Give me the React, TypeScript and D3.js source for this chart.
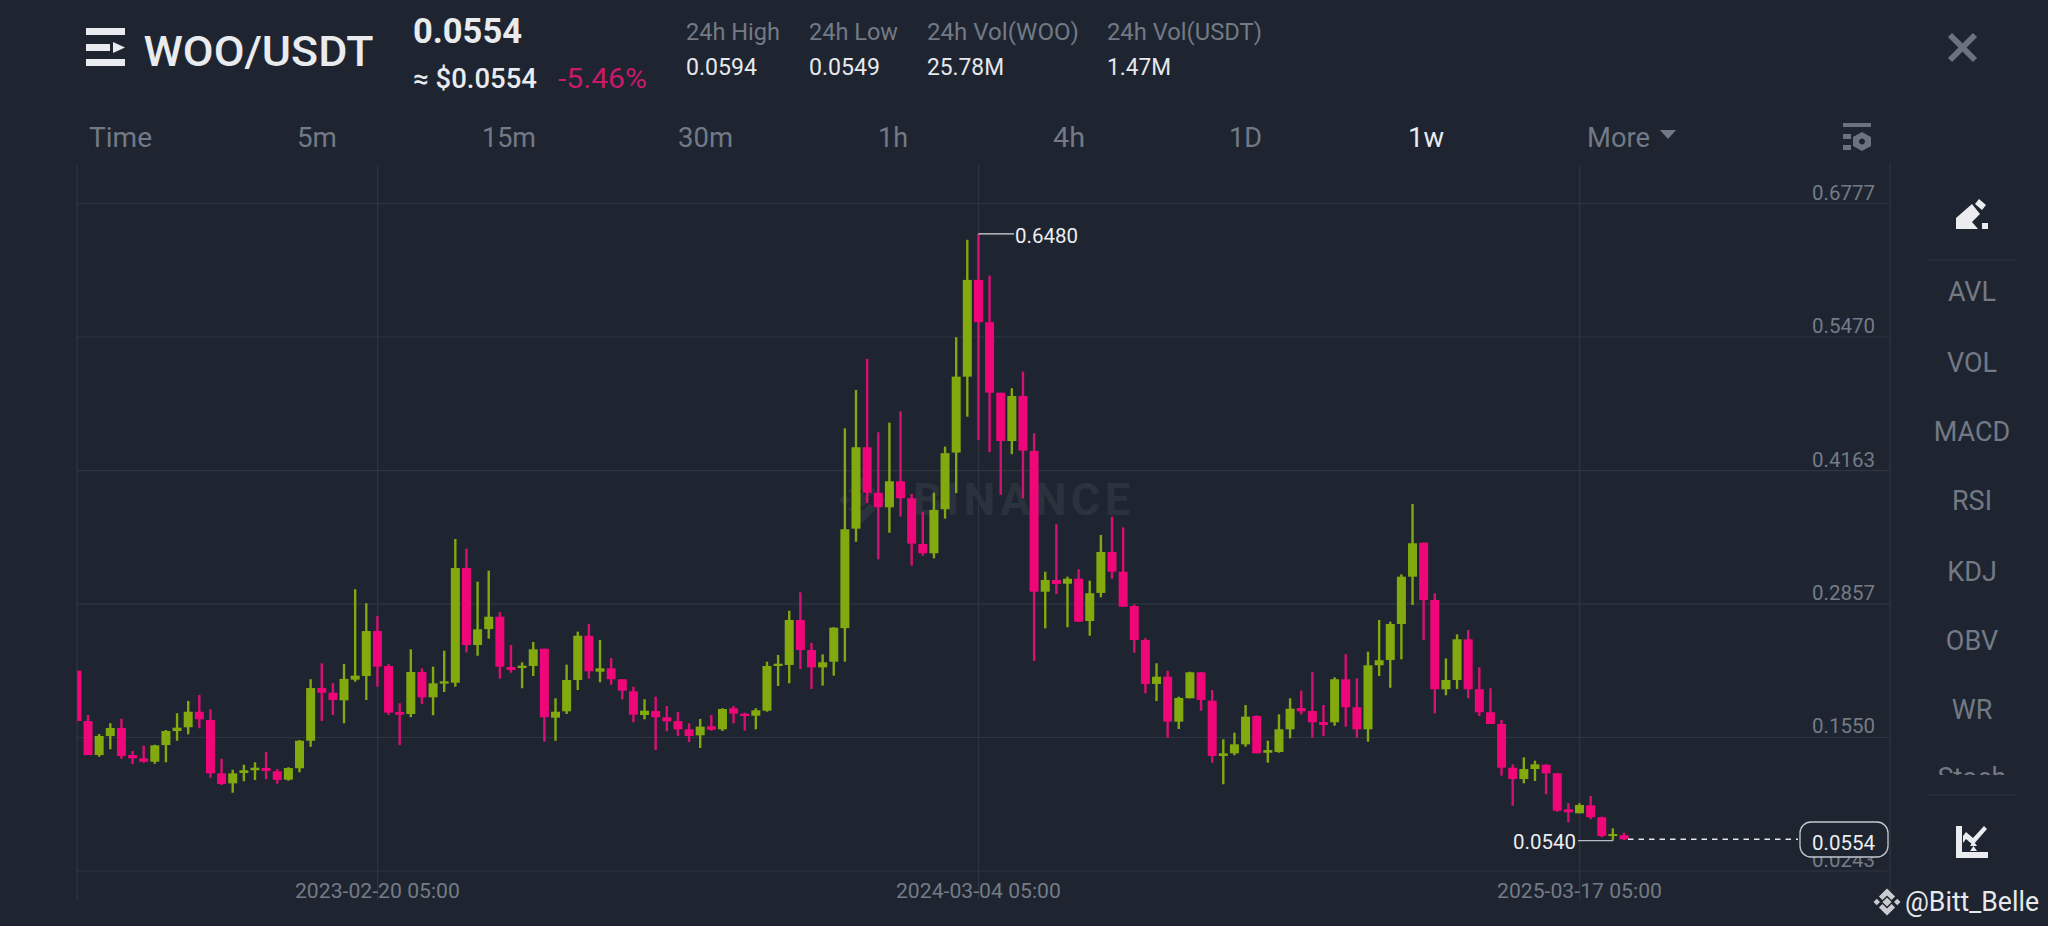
import React from "react";
import * as d3 from "d3";

const opens = [.2204,.1711,.1378,.1565,.1643,.1378,.1346,.1313,.1476,.1613,.1650,.1802,.1721,.1199,.1101,.1202,.1229,.1251,.1219,.1137,
.1249,.1518,.2034,.1988,.1914,.2116,.2152,.2592,.2250,.1800,.1780,.2191,.1943,.2077,.2086,.3209,.2455,.2611,.2732,.2240,
.2230,.2250,.2419,.1744,.1806,.2113,.2546,.2194,.2227,.2120,.2002,.1770,.1809,.1748,.1711,.1630,.1571,.1660,.1630,.1836,
.1783,.1763,.1812,.2250,.2260,.2700,.2406,.2236,.2292,.2620,.3594,.4391,.3946,.3803,.4058,.3892,.3444,.3353,.3784,.4339,
.5082,.6029,.5615,.4925,.4452,.4893,.4355,.2977,.3092,.3055,.3104,.2690,.2965,.3366,.3173,.2837,.2504,.2074,.2145,.1705,
.1934,.2188,.1910,.1369,.1395,.1483,.1760,.1401,.1408,.1630,.1839,.1809,.1702,.1699,.2120,.1846,.1630,.2257,.2308,.2661,
.3124,.3457,.2896,.2022,.2113,.2511,.2022,.1797,.1682,.1254,.1143,.1241,.1283,.1199,.0847,.0808,.0886,.0769,.0586,.0593];
const closes = [.1711,.1378,.1565,.1643,.1368,.1346,.1313,.1473,.1613,.1646,.1802,.1728,.1199,.1095,.1199,.1229,.1254,.1222,.1134,.1251,
.1518,.2034,.1988,.1917,.2123,.2155,.2592,.2243,.1793,.1773,.2191,.1943,.2080,.2100,.3209,.2455,.2609,.2732,.2243,.2211,
.2253,.2413,.1748,.1802,.2113,.2546,.2198,.2227,.2120,.2008,.1773,.1812,.1748,.1708,.1630,.1565,.1656,.1626,.1829,.1783,
.1760,.1816,.2250,.2272,.2700,.2406,.2236,.2286,.2625,.3588,.4391,.3946,.3803,.4058,.3892,.3447,.3353,.3777,.4333,.5082,
.6029,.5615,.4925,.4452,.4893,.4358,.2977,.3092,.3053,.3104,.2683,.2962,.3366,.3173,.2830,.2504,.2074,.2145,.1705,.1937,
.2188,.1917,.1369,.1395,.1483,.1754,.1395,.1427,.1630,.1832,.1806,.1699,.1672,.2120,.1846,.1630,.2257,.2306,.2661,.3124,
.3451,.2896,.2022,.2113,.2511,.2022,.1797,.1682,.1254,.1143,.1241,.1287,.1199,.0833,.0818,.0889,.0769,.0586,.0605,.0554];
const highs = [.2204,.1770,.1584,.1689,.1734,.1417,.1469,.1479,.1623,.1787,.1907,.1966,.1826,.1342,.1234,.1283,.1307,.1407,.1241,.1258,
.1525,.2120,.2276,.2083,.2269,.3001,.2864,.2739,.2269,.1885,.2413,.2227,.2243,.2399,.3493,.3398,.3075,.3183,.2776,.2455,
.2286,.2485,.2419,.1934,.2263,.2586,.2661,.2504,.2328,.2120,.2047,.1924,.1949,.1858,.1800,.1689,.1731,.1770,.1836,.1858,
.1793,.1836,.2292,.2358,.2791,.2971,.2476,.2364,.2629,.4577,.4952,.5256,.4538,.4632,.4743,.3934,.3760,.3946,.4397,.5468,
.6421,.6480,.6071,.4925,.4969,.5131,.4528,.3172,.3637,.3124,.3196,.3085,.3532,.3712,.3607,.2854,.2521,.2276,.2204,.1949,
.2194,.2188,.2015,.1532,.1597,.1868,.1767,.1518,.1777,.1934,.2008,.2191,.1868,.2139,.2364,.2129,.2390,.2700,.2683,.3147,
.3836,.3457,.2962,.2325,.2559,.2602,.2237,.2032,.1721,.1287,.1356,.1323,.1287,.1199,.0906,.0906,.0977,.0775,.0661,.0618];
const lows = [.1711,.1378,.1362,.1434,.1342,.1287,.1303,.1293,.1307,.1518,.1581,.1640,.1156,.1085,.1009,.1121,.1134,.1141,.1098,.1127,
.1209,.1459,.1711,.1770,.1689,.2096,.1917,.2047,.1770,.1476,.1748,.1878,.1767,.1995,.2047,.2383,.2350,.2517,.2126,.2184,
.2032,.2152,.1509,.1518,.1780,.2015,.2126,.2090,.2067,.1924,.1699,.1728,.1427,.1611,.1565,.1506,.1447,.1616,.1613,.1689,
.1616,.1630,.1802,.2054,.2080,.2220,.2025,.2057,.2155,.2292,.3466,.3843,.3294,.3554,.3712,.3232,.3329,.3304,.3692,.3942,
.4690,.4462,.4342,.3924,.4323,.3892,.2299,.2619,.2955,.2629,.2683,.2546,.2922,.3104,.2830,.2380,.1983,.1907,.1548,.1633,
.1934,.1812,.1303,.1092,.1376,.1460,.1395,.1303,.1401,.1542,.1777,.1548,.1565,.1665,.1656,.1548,.1509,.2152,.2037,.2315,
.2847,.2504,.1787,.1963,.2025,.1934,.1760,.1682,.1176,.0882,.1101,.1124,.0994,.0823,.0720,.0808,.0749,.0573,.0540,.0546];

const priceTicks = [0.6777, 0.5470, 0.4163, 0.2857, 0.1550, 0.0243];
const dateTicks = [
  { index: 27, label: "2023-02-20 05:00" },
  { index: 81, label: "2024-03-04 05:00" },
  { index: 135, label: "2025-03-17 05:00" },
];
const lastPrice = 0.0554;
const maxPoint = { index: 81, value: 0.648 };
const minPoint = { index: 138, value: 0.054 };
const tabs = [
  { t: "Time", x: 89, w: 63 }, { t: "5m", x: 297, w: 40 }, { t: "15m", x: 482, w: 54 }, { t: "30m", x: 678, w: 55 },
  { t: "1h", x: 878, w: 30 }, { t: "4h", x: 1053, w: 32 }, { t: "1D", x: 1229, w: 33 }, { t: "1w", x: 1408, w: 36 }, { t: "More", x: 1587, w: 63 },
];
const stats = [
  { k: "24h High", v: "0.0594", x: 686, kw: 94, vw: 71 },
  { k: "24h Low", v: "0.0549", x: 809, kw: 89, vw: 71 },
  { k: "24h Vol(WOO)", v: "25.78M", x: 927, kw: 152, vw: 77 },
  { k: "24h Vol(USDT)", v: "1.47M", x: 1107, kw: 155, vw: 64 },
];
const sideItems = [
  { t: "AVL", y: 301 }, { t: "VOL", y: 372 }, { t: "MACD", y: 441 }, { t: "RSI", y: 510 },
  { t: "KDJ", y: 581 }, { t: "OBV", y: 650 }, { t: "WR", y: 719 }, { t: "Stoch", y: 787 },
];

const BG = "#1e2530";
const GRID = "#2f3640";
const GREEN = "#82aa0e";
const PINK = "#ef0678";
const MUTED = "#737985";
const FONT = "Roboto, 'Noto Sans', sans-serif";

const x = d3.scaleLinear().domain([0, 139]).range([76.9, 1624]);
const y = d3.scaleLinear().domain([0.0243, 0.6777]).range([871, 203.5]);

function Diamond({ cx, cy, s, fill }: { cx: number; cy: number; s: number; fill: string }) {
  const d = (dx: number, dy: number, r: number) =>
    `M${cx + dx} ${cy + dy - r}L${cx + dx + r} ${cy + dy}L${cx + dx} ${cy + dy + r}L${cx + dx - r} ${cy + dy}Z`;
  return (
    <g fill={fill}>
      <path d={d(0, 0, s * 0.17)} />
      <path d={d(-s * 0.38, 0, s * 0.12)} />
      <path d={d(s * 0.38, 0, s * 0.12)} />
      <path d={`M${cx} ${cy - s * 0.5}L${cx + s * 0.3} ${cy - s * 0.2}L${cx + s * 0.17} ${cy - s * 0.07}L${cx} ${cy - s * 0.24}L${cx - s * 0.17} ${cy - s * 0.07}L${cx - s * 0.3} ${cy - s * 0.2}Z`} />
      <path d={`M${cx} ${cy + s * 0.5}L${cx + s * 0.3} ${cy + s * 0.2}L${cx + s * 0.17} ${cy + s * 0.07}L${cx} ${cy + s * 0.24}L${cx - s * 0.17} ${cy + s * 0.07}L${cx - s * 0.3} ${cy + s * 0.2}Z`} />
    </g>
  );
}

export default function App() {
  const fmt = d3.format(".4f");
  return (
    <svg width={2048} height={926} style={{ position: "absolute", left: 0, top: 0, display: "block" }} fontFamily={FONT}>
      <defs>
        <clipPath id="plot"><rect x={77.3} y={165} width={1812} height={735} /></clipPath>
        <clipPath id="side"><rect x={1900} y={262} width={148} height={513} /></clipPath>
      </defs>
      <rect width={2048} height={926} fill={BG} />

      {/* header */}
      <g fill="#e9ebef">
        <rect x={86} y={28} width={39} height={7} />
        <rect x={86} y={44} width={24} height={7} />
        <path d="M113 42L125 47.5L113 53Z" />
        <rect x={86} y={59} width={39} height={7} />
      </g>
      <text x={143.5} y={66} fontSize={42} fontWeight={500} fill="#e9ebef" textLength={230} lengthAdjust="spacingAndGlyphs">WOO/USDT</text>
      <text x={413} y={43} fontSize={35} fontWeight={700} fill="#e9ebef" textLength={109} lengthAdjust="spacingAndGlyphs">0.0554</text>
      <text x={413} y={88} fontSize={27} fontWeight={500} fill="#e9ebef" textLength={124} lengthAdjust="spacingAndGlyphs">≈ $0.0554</text>
      <text x={558} y={88} fontSize={27} fontWeight={400} fill="#c9196b" textLength={89} lengthAdjust="spacingAndGlyphs">-5.46%</text>
      {stats.map((s) => (
        <g key={s.k}>
          <text x={s.x} y={40} fontSize={24} fill={MUTED} textLength={s.kw} lengthAdjust="spacingAndGlyphs">{s.k}</text>
          <text x={s.x} y={75} fontSize={24} fill="#e6e8ec" textLength={s.vw} lengthAdjust="spacingAndGlyphs">{s.v}</text>
        </g>
      ))}
      <g stroke="#6d737e" strokeWidth={6}>
        <line x1={1950} y1={35} x2={1975} y2={60} />
        <line x1={1975} y1={35} x2={1950} y2={60} />
      </g>

      {/* tabs */}
      {tabs.map((t) => (
        <text key={t.t} x={t.x} y={147} fontSize={28} fill={t.t === "1w" ? "#e9ebef" : MUTED} textLength={t.w} lengthAdjust="spacingAndGlyphs">{t.t}</text>
      ))}
      <path d="M1660 130L1676 130L1668 139Z" fill={MUTED} />
      <g fill="#6d737e">
        <rect x={1843} y={123} width={28} height={4} />
        <rect x={1843} y={134} width={8} height={5} />
        <rect x={1843} y={145} width={8} height={5} />
        <path fillRule="evenodd" d="M1862 132L1871 137L1871 146L1862 151L1853 146L1853 137ZM1862 138.5a3 3 0 1 0 .01 0Z" />
      </g>

      {/* watermark */}
      <g>
        <Diamond cx={862} cy={500} s={46} fill="#2b323d" />
        <text x={913} y={515} fontSize={45} fontWeight={700} fill="#2b323d" textLength={217} lengthAdjust="spacing">BINANCE</text>
      </g>

      {/* grid */}
      <g stroke={GRID} strokeWidth={1.2}>
        {priceTicks.map((p) => (
          <line key={p} x1={77} x2={1889} y1={y(p)} y2={y(p)} />
        ))}
        <line x1={77} x2={77} y1={165} y2={900} />
        {dateTicks.map((d) => (
          <line key={d.label} x1={x(d.index) + 0.2} x2={x(d.index) + 0.2} y1={165} y2={900} />
        ))}
        <line x1={1890} x2={1890} y1={163} y2={900} />
      </g>

      {/* price labels */}
      {priceTicks.map((p) => (
        <text key={p} x={1875} y={y(p) - 4} textAnchor="end" fontSize={20.5} fill="#757b86">{fmt(p)}</text>
      ))}
      {dateTicks.map((d) => (
        <text key={d.label} x={x(d.index)} y={897.5} textAnchor="middle" fontSize={20.5} fill="#757b86" textLength={165} lengthAdjust="spacingAndGlyphs">{d.label}</text>
      ))}

      {/* candles */}
      <g clipPath="url(#plot)">
        {opens.map((o, i) => {
          const c = closes[i];
          const up = c >= o;
          const col = up ? GREEN : PINK;
          const top = y(Math.max(o, c));
          const bot = y(Math.min(o, c));
          return (
            <g key={i}>
              <line x1={x(i)} x2={x(i)} y1={y(highs[i])} y2={y(lows[i])} stroke={up ? GREEN : "#d80f74"} strokeWidth={2.4} />
              <rect x={x(i) - 4.5} y={top} width={9} height={Math.max(bot - top, 2)} fill={col} />
            </g>
          );
        })}
      </g>

      {/* max / min markers */}
      <line x1={x(maxPoint.index)} x2={1014} y1={y(maxPoint.value)} y2={y(maxPoint.value)} stroke="#d8dade" strokeWidth={1.4} />
      <text x={1015} y={242.5} fontSize={20.5} fill="#eceef1">{fmt(maxPoint.value)}</text>
      <line x1={1578} x2={x(minPoint.index)} y1={y(minPoint.value)} y2={y(minPoint.value)} stroke="#b9bcc2" strokeWidth={1.4} />
      <text x={1576} y={849} textAnchor="end" fontSize={20.5} fill="#eceef1">{fmt(minPoint.value)}</text>

      {/* last price */}
      <line x1={1628} x2={1798} y1={y(lastPrice)} y2={y(lastPrice)} stroke="#e4e6ea" strokeWidth={1.3} strokeDasharray="5.5 5" />
      <rect x={1800} y={822} width={88} height={35} rx={11} fill={BG} stroke="#c4c8ce" strokeWidth={1.3} />
      <text x={1875} y={850} textAnchor="end" fontSize={20.5} fill="#eceef1">{fmt(lastPrice)}</text>

      {/* right side panel */}
      <line x1={1928} x2={2015} y1={260} y2={260} stroke={GRID} strokeWidth={1.2} />
      <line x1={1928} x2={2015} y1={795} y2={795} stroke={GRID} strokeWidth={1.2} />
      <g clipPath="url(#side)">
        {sideItems.map((s) => (
          <text key={s.t} x={1972} y={s.y} textAnchor="middle" fontSize={27} fill={MUTED}>{s.t}</text>
        ))}
      </g>
      <g fill="#eaecef">
        <path d="M1956 229L1956 218L1972 204L1980 214L1972 222L1978 229Z" />
        <path d="M1975 204L1979 199L1986 205L1982 210Z" />
        <rect x={1982} y={223} width={6} height={6} />
        <path fillRule="evenodd" d="M1956 826L1962 826L1962 852L1988 852L1988 858L1956 858Z" />
        <path d="M1963 836L1966 832L1973 838L1984 826L1987 829L1973 845L1966 839L1963 843Z" />
        <path d="M1970 846L1977 846L1973.5 841ZM1970 851L1977 851L1973.5 846Z" />
      </g>

      {/* credit */}
      <Diamond cx={1887} cy={902} s={27} fill="#c9cbcf" />
      <text x={1905} y={911} fontSize={27} fill="#e8e9ec" textLength={134} lengthAdjust="spacingAndGlyphs">@Bitt_Belle</text>
    </svg>
  );
}
